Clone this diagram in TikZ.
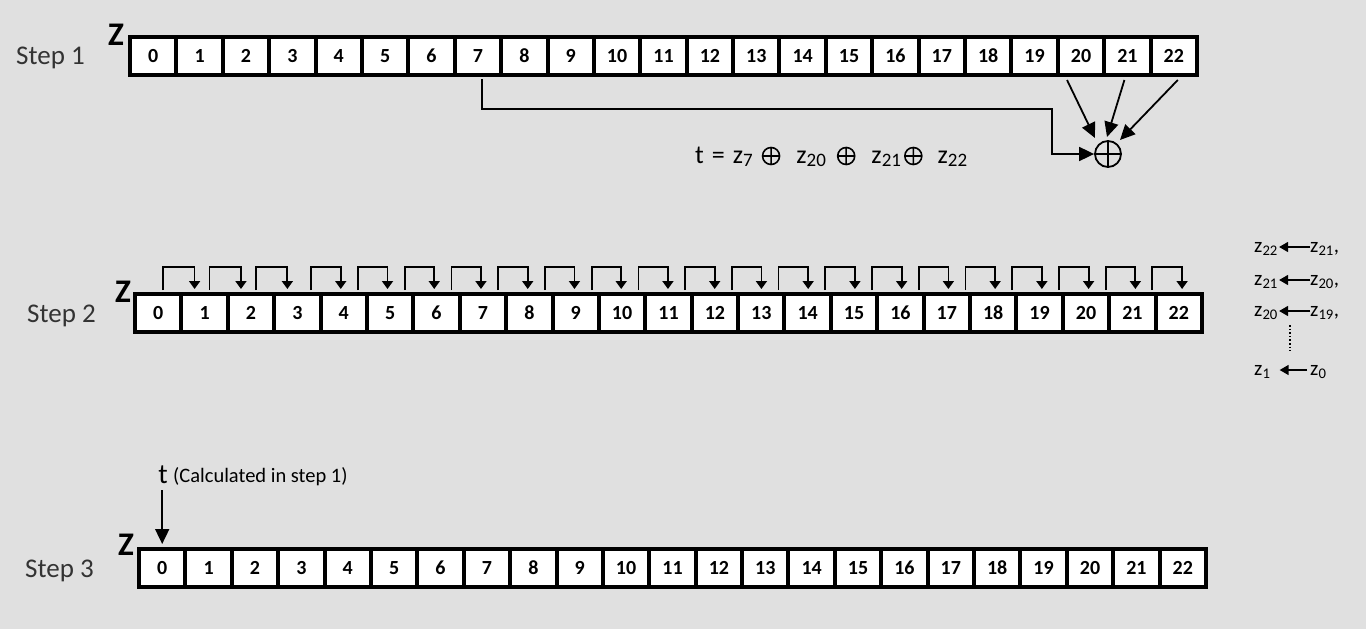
\documentclass[tikz,border=0pt]{standalone}
\usepackage{fontspec}
\setmainfont{Carlito}
\usetikzlibrary{arrows.meta,calc}
\newcommand{\xorsym}{\tikz[baseline=-7pt]{\draw[line width=1.6pt] (0pt,0pt) circle[radius=8.5pt] (-8.5pt,0pt) -- (8.5pt,0pt) (0pt,-8.5pt) -- (0pt,8.5pt);}}
\newcommand{\zsub}[1]{z\raisebox{-3pt}{\fontsize{19}{19}\selectfont #1}}
\begin{document}
\begin{tikzpicture}[x=1pt,y=-1pt,
  cell/.style={draw=black,fill=white,line width=4pt,minimum width=46.391pt,minimum height=38pt,inner sep=0pt,font=\bfseries\fontsize{20}{20}\selectfont},
  steplbl/.style={anchor=base west,inner sep=0pt,font=\fontsize{27}{27}\selectfont,text=black!80},
  zlbl/.style={anchor=base west,inner sep=0pt,font=\bfseries\fontsize{33}{33}\selectfont},
  conn/.style={line width=1.8pt,-{Triangle[length=15pt,width=14pt]}},
  shiftarrow/.style={line width=1.8pt,-{Triangle[length=8pt,width=11pt]}},
  small/.style={anchor=base west,inner sep=0pt,font=\fontsize{21}{21}\selectfont},
  sarrow/.style={line width=1.5pt,-{Triangle[length=9pt,width=10pt]}}]
\fill[black!12] (0,0) rectangle (1366,629);
\useasboundingbox (0,0) rectangle (1366,629);
% Step labels
\node[steplbl] (s1) at (16,64) {Step 1};
\node[steplbl] (s2) at (27,322) {Step 2};
\node[steplbl] (s3) at (25,577) {Step 3};
% Z labels
\node[zlbl] (z1) at (108,45) {Z};
\node[zlbl] (z2) at (115,302) {Z};
\node[zlbl] (z3) at (118,555) {Z};
% cells
\foreach \i in {0,...,22} {
  \node[cell] (a\i) at ({130+(\i+0.5)*46.391},56) {\i};
  \node[cell] (b\i) at ({135+(\i+0.5)*46.391},313) {\i};
  \node[cell] (c\i) at ({139+(\i+0.5)*46.391},568) {\i};
}
% Step 1
\node[draw=black,line width=1.8pt,circle,minimum size=26pt,inner sep=0pt] (xo) at (1108,154) {};
\draw[line width=1.8pt] (xo.north) -- (xo.south) (xo.west) -- (xo.east);
\draw[conn] ($(a7.south)+(4,2)$) -- ++(0,30) -| (1052,154) -- (xo.west);
\draw[conn] ($(a20.south)+(-14,3)$) -- ($(xo)+(-13,-16)$);
\draw[conn] ($(a21.south)+(-3,3)$) -- ($(xo)+(-1,-17)$);
\draw[conn] ($(a22.south)+(4,3)$) -- ($(xo)+(12,-14)$);
\node[anchor=base west,inner sep=0pt,font=\fontsize{26}{26}\selectfont] (formula) at (695,163)
  {t\hspace{8pt}=\hspace{8pt}\zsub{7}\hspace{9pt}\xorsym\hspace{16pt}\zsub{20}\hspace{11pt}\xorsym\hspace{16pt}\zsub{21}\hspace{3pt}\xorsym\hspace{15pt}\zsub{22}};
% Step 2 arrows
\foreach \i [evaluate=\i as \j using int(\i+1),
  evaluate=\i as \so using {\i<3 ? 5 : 14+0.33*(\i-3)},
  evaluate=\i as \eo using {\i<3 ? -10 : -3+0.35*(\i-3)}] in {0,...,21} {
  \draw[shiftarrow] ($(b\i.north)+(\so,-2)$) -- ++(0,-23) -| ($(b\j.north)+(\eo,-3)$);
}
% right list
\node[small] (l1) at (1254,252) {z\textsubscript{22}};
\node[small] (r1) at (1310,252) {z\textsubscript{21},};
\node[small] (l2) at (1254,285) {z\textsubscript{21}};
\node[small] (r2) at (1310,285) {z\textsubscript{20},};
\node[small] (l3) at (1254,316) {z\textsubscript{20}};
\node[small] (r3) at (1310,316) {z\textsubscript{19},};
\node[small] (l4) at (1254,375) {z\textsubscript{1}};
\node[small] (r4) at (1310,375) {z\textsubscript{0}};
\foreach \k in {1,2,3} \draw[sarrow] ($(r\k.base west)+(0,-5)$) -- ($(l\k.base east)+(1,-5)$);
\draw[sarrow] ($(r4.base west)+(-3,-5)$) -- ($(l4.base east)+(9,-5)$);
\coordinate (d1) at (1290,325);
\coordinate (d2) at (1290,351);
\draw[line width=1.6pt,dotted] (d1) -- (d2);
% Step 3
\node[anchor=base,inner sep=0pt,font=\fontsize{28}{28}\selectfont] (t3) at (163,483) {t};
\node[anchor=base west,inner sep=0pt,font=\fontsize{20.5}{20.5}\selectfont] (calc3) at (173,482) {(Calculated in step 1)};
\draw[conn] ($(c0.north)+(0,-57)$) -- ($(c0.north)+(0,-3)$);
\end{tikzpicture}
\end{document}
